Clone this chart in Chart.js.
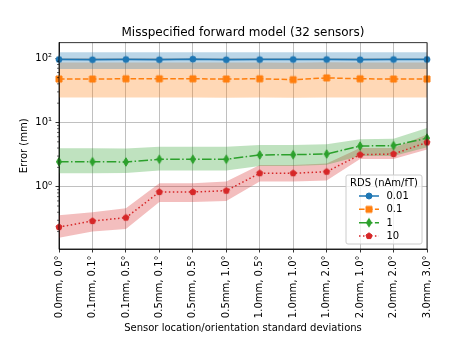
<!DOCTYPE html>
<html><head><meta charset="utf-8">
<script src="https://cdn.jsdelivr.net/npm/chart.js@4"></script>
<style>html,body{margin:0;padding:0;background:#fff}#wrap{width:474px;height:355px}</style>
</head><body><div id="wrap"><canvas id="c" width="474" height="355"></canvas></div>
<script>
const categories = ['0.0mm, 0.0°','0.1mm, 0.1°','0.1mm, 0.5°','0.5mm, 0.1°','0.5mm, 0.5°','0.5mm, 1.0°','1.0mm, 0.5°','1.0mm, 1.0°','1.0mm, 2.0°','2.0mm, 1.0°','2.0mm, 2.0°','3.0mm, 3.0°'];
const rdsLabels = ['0.01','0.1','1','10'];
const chartTitle = 'Misspecified forward model (32 sensors)';

const err001   = [96, 95, 96, 95, 97, 95, 95.5, 96, 96, 95, 96, 96];
const err001Lo = [68, 68, 68, 68, 68, 68, 68, 68, 68, 68, 68, 68];
const err001Hi = [124, 124, 124, 124, 124, 124, 124, 124, 124, 124, 124, 124];

const err01   = [47.5, 47.5, 48, 48, 48, 47.5, 48, 46.5, 49.5, 48, 47.5, 47.5];
const err01Lo = [24.5, 24.5, 24.5, 24.5, 24.5, 24.3, 24.5, 24.3, 24.6, 24.5, 24.5, 24.5];
const err01Hi = [86, 86, 86, 86, 86, 86, 86, 85, 87, 86, 86, 86];

const err1   = [2.45, 2.45, 2.43, 2.67, 2.67, 2.67, 3.12, 3.15, 3.23, 4.3, 4.37, 5.7];
const err1Lo = [1.62, 1.62, 1.63, 1.78, 1.78, 1.78, 2.1, 2.1, 2.2, 3.0, 3.0, 4.1];
const err1Hi = [3.97, 3.97, 3.95, 4.2, 4.2, 4.2, 4.45, 4.45, 4.6, 5.5, 5.6, 8.2];

const err10   = [0.235, 0.292, 0.329, 0.826, 0.826, 0.866, 1.62, 1.62, 1.71, 3.15, 3.23, 4.9];
const err10Lo = [0.16, 0.2, 0.22, 0.58, 0.58, 0.6, 1.2, 1.2, 1.25, 2.7, 2.7, 3.8];
const err10Hi = [0.36, 0.40, 0.46, 1.13, 1.13, 1.2, 2.18, 2.18, 2.3, 4.0, 4.0, 6.5];

const yMajorTicks = [1, 10, 100];
const yTickLabels = ['10⁰', '10¹', '10²'];

const colors = ['#1f77b4', '#ff7f0e', '#2ca02c', '#d62728'];
const bandColors = ['rgba(31,119,180,0.3)', 'rgba(255,127,14,0.3)', 'rgba(44,160,44,0.3)', 'rgba(214,39,40,0.3)'];
const dashes = [[], [5.55, 2.4], [9.6, 2.4, 1.5, 2.4], [1.5, 2.475]];
const markerKinds = ['circle', 'square', 'thindiamond', 'pentagon'];

function makeMarker(kind, color) {
  const c = document.createElement('canvas');
  c.width = 12; c.height = 12;
  const g = c.getContext('2d');
  g.fillStyle = color; g.strokeStyle = color; g.lineWidth = 1;
  g.beginPath();
  const cx = 6, cy = 6;
  if (kind === 'circle') {
    g.arc(cx, cy, 3, 0, Math.PI * 2);
  } else if (kind === 'square') {
    g.rect(cx - 3, cy - 3, 6, 6);
  } else if (kind === 'thindiamond') {
    const h = 4.24, w = 2.55;
    g.moveTo(cx, cy - h); g.lineTo(cx + w, cy); g.lineTo(cx, cy + h); g.lineTo(cx - w, cy); g.closePath();
  } else if (kind === 'pentagon') {
    const r = 3.2;
    for (let i = 0; i < 5; i++) {
      const a = -Math.PI / 2 + i * 2 * Math.PI / 5;
      const px = cx + r * Math.cos(a), py = cy + r * Math.sin(a);
      if (i === 0) g.moveTo(px, py); else g.lineTo(px, py);
    }
    g.closePath();
  }
  g.fill(); g.stroke();
  return c;
}
const markers = markerKinds.map((k, i) => makeMarker(k, colors[i]));

const series = [[err001, err001Lo, err001Hi], [err01, err01Lo, err01Hi], [err1, err1Lo, err1Hi], [err10, err10Lo, err10Hi]];

const datasets = [];
series.forEach((s, i) => {
  const loIdx = datasets.length;
  datasets.push({ label: 'lo' + i, data: s[1], borderWidth: 0, borderColor: 'rgba(0,0,0,0)', pointRadius: 0, fill: false, order: 20 });
  datasets.push({ label: 'hi' + i, data: s[2], borderWidth: 0, borderColor: 'rgba(0,0,0,0)', pointRadius: 0, fill: loIdx, backgroundColor: bandColors[i], order: 20 });
});
series.forEach((s, i) => {
  datasets.push({
    label: rdsLabels[i], data: s[0], borderColor: colors[i], backgroundColor: colors[i],
    borderWidth: 1.5, borderDash: dashes[i], pointStyle: markers[i], pointRadius: 4,
    fill: false, order: 10 - i, tension: 0
  });
});

const yMinorTicks = [];
[0.1, 1, 10, 100].forEach(d => { for (let k = 2; k <= 9; k++) yMinorTicks.push(+(k * d).toPrecision(3)); });

const FONT = 'DejaVu Sans';

const extras = {
  id: 'extras',
  afterDraw(chart) {
    const { ctx, chartArea: a, scales: { y } } = chart;
    ctx.save();
    // title
    ctx.fillStyle = '#000';
    ctx.font = '12px "' + FONT + '"';
    ctx.textAlign = 'center'; ctx.textBaseline = 'middle';
    ctx.fillText(chartTitle, (a.left + a.right) / 2, 32.5);
    // minor ticks
    ctx.strokeStyle = '#000'; ctx.lineWidth = 0.6;
    for (const v of yMinorTicks) {
      const py = y.getPixelForValue(v);
      if (py < a.top || py > a.bottom) continue;
      ctx.beginPath(); ctx.moveTo(a.left - 2, py); ctx.lineTo(a.left, py); ctx.stroke();
    }
    ctx.lineWidth = 0.8;
    ctx.strokeRect(a.left, a.top, a.right - a.left, a.bottom - a.top);

    // legend
    const bw = 76, bh = 69;
    const bx = a.right - 5 - bw, by = a.bottom - 5 - bh;
    ctx.beginPath();
    if (ctx.roundRect) ctx.roundRect(bx, by, bw, bh, 2); else ctx.rect(bx, by, bw, bh);
    ctx.fillStyle = 'rgba(255,255,255,0.8)'; ctx.fill();
    ctx.strokeStyle = '#cccccc'; ctx.lineWidth = 1; ctx.stroke();
    ctx.fillStyle = '#000';
    ctx.font = '10px "' + FONT + '"';
    ctx.textBaseline = 'middle'; ctx.textAlign = 'center';
    ctx.fillText('RDS (nAm/fT)', bx + bw / 2, by + 8.5);
    ctx.textAlign = 'left';
    for (let i = 0; i < 4; i++) {
      const ey = by + 21 + i * 13.33;
      ctx.save();
      ctx.strokeStyle = colors[i]; ctx.lineWidth = 1.5; ctx.setLineDash(dashes[i]);
      ctx.beginPath(); ctx.moveTo(bx + 13, ey); ctx.lineTo(bx + 33, ey); ctx.stroke();
      ctx.restore();
      const m = markers[i];
      ctx.drawImage(m, bx + 23 - m.width / 2, ey - m.height / 2);
      ctx.fillStyle = '#000';
      ctx.fillText(rdsLabels[i], bx + 40.5, ey + 0.5);
    }
    ctx.restore();
  }
};

new Chart(document.getElementById('c'), {
  type: 'line',
  data: { labels: categories, datasets },
  options: {
    responsive: false, animation: false, devicePixelRatio: 1,
    layout: { padding: { left: 0, right: 47, top: 42.7, bottom: 0 } },
    plugins: {
      legend: { display: false },
      tooltip: { enabled: false },
      title: { display: false }
    },
    scales: {
      x: {
        type: 'category', offset: false,
        ticks: { color: '#000', font: { family: FONT, size: 10 }, minRotation: 90, maxRotation: 90, autoSkip: false, padding: 3 },
        grid: { color: '#b0b0b0', lineWidth: 0.8, offset: false, tickLength: 3.5, tickColor: '#000', tickWidth: 0.8 },
        border: { color: '#000', width: 0.8 },
        title: { display: true, text: 'Sensor location/orientation standard deviations', color: '#000',
          font: { family: FONT, size: 10 }, padding: { top: 0, bottom: 20.7 } },
        afterFit: s => { s.height = 106; }
      },
      y: {
        type: 'logarithmic', min: 0.107, max: 175,
        afterBuildTicks: s => { s.ticks = yMinorTicks.concat(yMajorTicks).sort((a, b) => a - b).filter(v => v >= 0.107 && v <= 175).map(v => ({ value: v })); },
        ticks: { color: '#000', font: { family: FONT, size: 10 }, autoSkip: false, padding: 3.5,
          callback: (v) => { const i = yMajorTicks.indexOf(v); return i >= 0 ? yTickLabels[i] : ''; } },
        grid: { lineWidth: 0.8, tickLength: 3.5, tickWidth: 0.8,
          color: c => yMajorTicks.includes(c.tick && c.tick.value) ? '#b0b0b0' : 'rgba(0,0,0,0)',
          tickColor: c => yMajorTicks.includes(c.tick && c.tick.value) ? '#000' : 'rgba(0,0,0,0)' },
        border: { color: '#000', width: 0.8 },
        title: { display: true, text: 'Error (mm)', color: '#000', font: { family: FONT, size: 10 }, padding: { top: 18, bottom: 0 } },
        afterFit: s => { s.width = 59; }
      }
    }
  },
  plugins: [extras]
});
</script>
</body></html>
